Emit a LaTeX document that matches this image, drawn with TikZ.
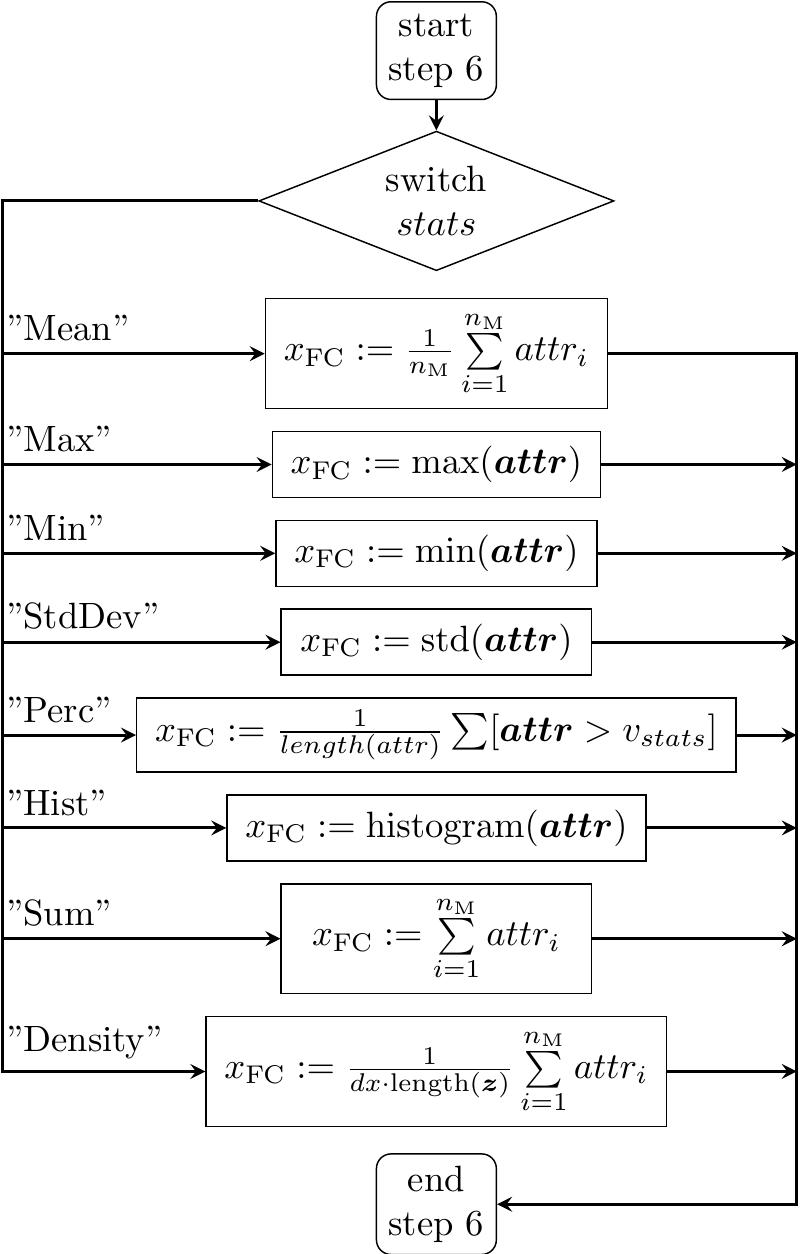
\documentclass[tikz,border=0pt]{standalone}
\usepackage{amsmath}
\usepackage{amssymb}
\usepackage{tikz}
\usetikzlibrary{shapes.geometric, arrows.meta, positioning, arrows, calc}

\begin{document}
\begin{tikzpicture}[
        node distance=0.205cm,
        % Global Styles
        term/.style={rectangle, draw, rounded corners=4pt, align=center, inner sep=3.3pt},
        decision/.style={diamond, draw, align=center, aspect=2.5, inner sep=0pt, minimum width=3.41cm, minimum height=1.34cm},
        block/.style={rectangle, draw, inner xsep=5pt, inner ysep=3.3pt, minimum width=2.98cm, minimum height=0.634cm},
        case/.style={inner xsep=0.6pt, inner ysep=3pt, anchor=south west},
        arrow/.style={thick, ->, >=stealth}
    ]
    \useasboundingbox (0,0) rectangle (7.68,-12.04);

    % --- Start & Switch ---
    \node (start) [term, below] at (4.19,-0.01) {start\\step 6};
    \node (switch) [decision, below=0.29cm of start] {switch\\$stats$};

    % --- Cases ---
    \node (Mean) [block, below=0.255cm of switch] {$x_{\mathrm{FC}} := \frac{1}{n_{\mathrm{M}}} \sum\limits_{i=1}^{n_{\mathrm{M}}} attr_i$};
    \node (Max) [block, below=of Mean] {$x_{\mathrm{FC}} := \max(\boldsymbol{attr})$};
    \node (Min) [block, below=of Max] {$x_{\mathrm{FC}} := \min(\boldsymbol{attr})$};
    \node (Std) [block, below=of Min] {$x_{\mathrm{FC}} := \mathrm{std}(\boldsymbol{attr})$};
    \node (Perc) [block, below=of Std] {$x_{\mathrm{FC}} := \frac{1}{length(attr)} \sum[\boldsymbol{attr} > v_{stats}]$};
    \node (Hist) [block, below=of Perc] {$x_{\mathrm{FC}} := \mathrm{histogram}(\boldsymbol{attr})$};
    \node (Sum) [block, below=of Hist] {$x_{\mathrm{FC}} := \sum\limits_{i=1}^{n_{\mathrm{M}}} attr_i$};
    \node (Dens) [block, below=of Sum] {$x_{\mathrm{FC}} := \frac{1}{dx\cdot\mathrm{length}(\boldsymbol{z})} \sum\limits_{i=1}^{n_{\mathrm{M}}} attr_i$};

    % --- End ---
    \node (end) [term, below=0.25cm of Dens] {end\\step 6};

    % --- Bus lines ---
    \coordinate (L) at (0.025,0);
    \coordinate (R) at (7.65,0);

    % --- CONNECTION LOGIC ---
    \draw [arrow] (start) -- (switch);

    % switch to cases (left bus)
    \draw [arrow] (switch.west) -| (L |- Dens.west) -- node[case, pos=0] (lDens) {''Density''} (Dens.west);
    \draw [arrow] (L |- Mean.west) -- node[case, pos=0] (lMean) {''Mean''} (Mean.west);
    \draw [arrow] (L |- Max.west) -- node[case, pos=0] (lMax) {''Max''} (Max.west);
    \draw [arrow] (L |- Min.west) -- node[case, pos=0] (lMin) {''Min''} (Min.west);
    \draw [arrow] (L |- Std.west) -- node[case, pos=0] (lStd) {''StdDev''} (Std.west);
    \draw [arrow] (L |- Perc.west) -- node[case, pos=0] (lPerc) {''Perc''} (Perc.west);
    \draw [arrow] (L |- Hist.west) -- node[case, pos=0] (lHist) {''Hist''} (Hist.west);
    \draw [arrow] (L |- Sum.west) -- node[case, pos=0] (lSum) {''Sum''} (Sum.west);

    % cases to end (right bus)
    \draw [arrow] (Mean.east) -| (R |- end.east) -- (end.east);
    \draw [arrow] (Max.east) -- (R |- Max.east);
    \draw [arrow] (Min.east) -- (R |- Min.east);
    \draw [arrow] (Std.east) -- (R |- Std.east);
    \draw [arrow] (Perc.east) -- (R |- Perc.east);
    \draw [arrow] (Hist.east) -- (R |- Hist.east);
    \draw [arrow] (Sum.east) -- (R |- Sum.east);
    \draw [arrow] (Dens.east) -- (R |- Dens.east);

\end{tikzpicture}
\end{document}
